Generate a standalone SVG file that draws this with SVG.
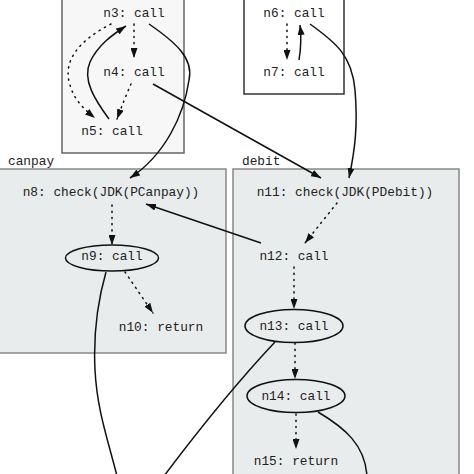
<svg xmlns="http://www.w3.org/2000/svg" width="474" height="474" viewBox="0 0 474 474">
<defs>
<marker id="ah" markerUnits="userSpaceOnUse" markerWidth="10" markerHeight="7" refX="10" refY="3.5" orient="auto">
<path d="M0,0 L10,3.5 L0,7 z" fill="#111"/>
</marker>
<style>
text{font-family:"Liberation Mono","DejaVu Sans Mono",monospace;font-size:12.8px;fill:#222;text-anchor:middle}
.lbl{text-anchor:start}
.solid{fill:none;stroke:#111;stroke-width:1.5}
.dot{fill:none;stroke:#111;stroke-width:1.5;stroke-dasharray:1.2 5;stroke-linecap:round}
.cl{fill:#e9ecec;stroke:#888;stroke-width:1.5}
.ell{fill:#e9ecec;stroke:#111;stroke-width:1.5}
</style>
</defs>
<g id="clusters">
<rect id="c_top1" x="62" y="-2" width="122" height="155" fill="#f7f7f7" stroke="#666" stroke-width="1.5"/>
<rect id="c_top2" x="244" y="-2" width="100" height="96" fill="#fff" stroke="#333" stroke-width="1.5"/>
<g id="canpay"><rect class="cl" x="-2" y="169" width="228" height="184"/><text class="lbl" x="8" y="165">canpay</text></g>
<g id="debit"><rect class="cl" x="233" y="169" width="226" height="310"/><text class="lbl" x="242" y="165">debit</text></g>
</g>
<g id="edges">
<path class="dot" d="M134,24 L134,58" marker-end="url(#ah)"/>
<path class="dot" d="M131,84 Q124,100 117,119" marker-end="url(#ah)"/>
<path class="dot" d="M111,24 C80,40 62,60 70,85 C74,100 85,110 95,118" marker-end="url(#ah)"/>
<path class="solid" d="M109,119 C95,100 82,80 90,62 C98,45 112,35 126,26" marker-end="url(#ah)"/>
<path class="solid" d="M149,24 C175,42 194,58 189,80 C184,115 165,155 130,178" marker-end="url(#ah)"/>
<path class="solid" d="M153,84 L321,178" marker-end="url(#ah)"/>
<path class="dot" d="M287,24 L287,60" marker-end="url(#ah)"/>
<path class="solid" d="M299,60 Q302,42 300,25" marker-end="url(#ah)"/>
<path class="solid" d="M310,24 C335,42 352,55 355,90 C358,125 355,150 349,178" marker-end="url(#ah)"/>
<path class="dot" d="M337,203 L305,243" marker-end="url(#ah)"/>
<path class="solid" d="M261,243 L146,204" marker-end="url(#ah)"/>
<path class="dot" d="M112,205 L112,245" marker-end="url(#ah)"/>
<path class="dot" d="M125,272 L153,313" marker-end="url(#ah)"/>
<path class="dot" d="M294,267 L294,309" marker-end="url(#ah)"/>
<path class="dot" d="M295,343 L295,379" marker-end="url(#ah)"/>
<path class="dot" d="M296,414 L296,449" marker-end="url(#ah)"/>
<path class="solid" d="M106,272 C98,300 93,330 95,370 C97,410 108,440 117,476"/>
<path class="solid" d="M275,342 Q225,395 164,476"/>
<path class="solid" d="M318,412 C345,428 365,445 367,476"/>
</g>
<g id="n3"><text x="134" y="17">n3: call</text></g>
<g id="n4"><text x="134" y="76">n4: call</text></g>
<g id="n5"><text x="112" y="135">n5: call</text></g>
<g id="n6"><text x="294" y="17">n6: call</text></g>
<g id="n7"><text x="294" y="76">n7: call</text></g>
<g id="n8"><text x="111" y="196">n8: check(JDK(PCanpay))</text></g>
<g id="n9"><ellipse class="ell" cx="112" cy="258" rx="46.5" ry="13"/><text x="112" y="260">n9: call</text></g>
<g id="n10"><text x="161" y="331">n10: return</text></g>
<g id="n11"><text x="345" y="196">n11: check(JDK(PDebit))</text></g>
<g id="n12"><text x="294" y="260">n12: call</text></g>
<g id="n13"><ellipse class="ell" cx="294" cy="326" rx="49" ry="16.5"/><text x="294" y="330">n13: call</text></g>
<g id="n14"><ellipse class="ell" cx="296" cy="396" rx="49" ry="16.5"/><text x="296" y="400">n14: call</text></g>
<g id="n15"><text x="296" y="465">n15: return</text></g>
</svg>
